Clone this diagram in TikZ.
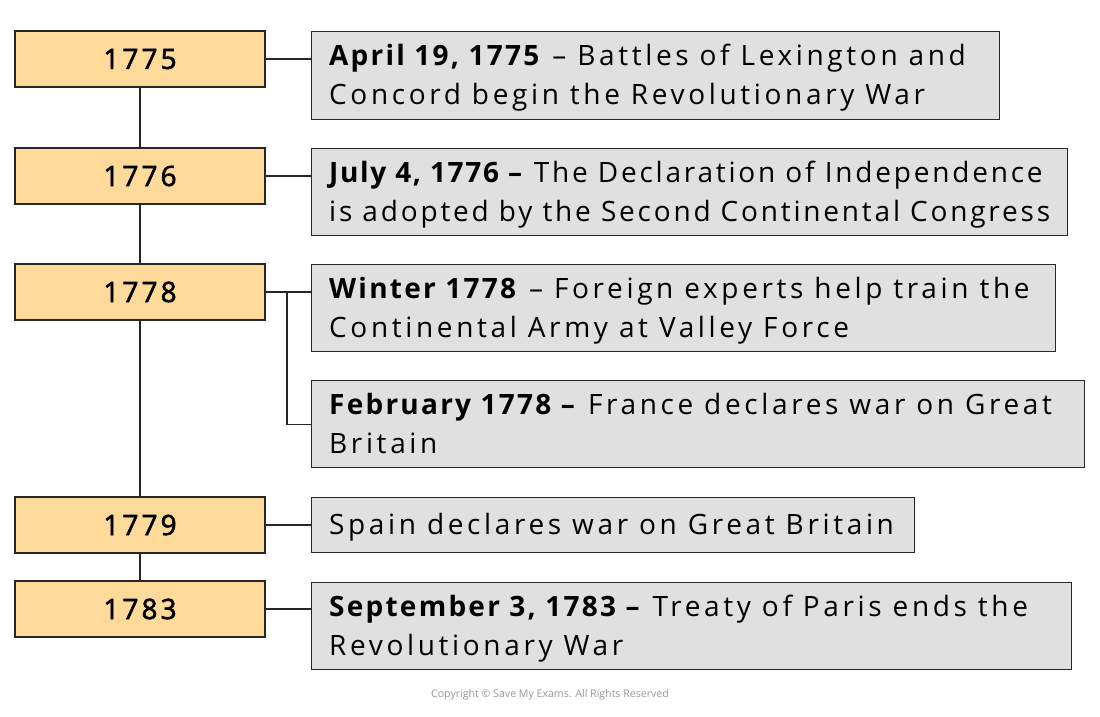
\documentclass[tikz,border=0pt]{standalone}
\usepackage{fontspec}
\setmainfont{Open Sans}[LetterSpace=13,BoldFeatures={LetterSpace=8}]
\newfontfamily\tightfont{Open Sans}[LetterSpace=10,BoldFeatures={LetterSpace=6}]
\newfontfamily\yearfont{Open Sans}[LetterSpace=11,FakeBold=2]
\newfontfamily\copyfont{Open Sans}
\usetikzlibrary{calc}
\begin{document}
\begin{tikzpicture}[x=1pt,y=-1pt,
  yearbox/.style={draw=black!85,line width=1.2pt,fill=yearfill,minimum width=250pt,minimum height=56pt,inner sep=0pt,font=\yearfont\fontsize{28}{32}\selectfont},
  eventbox/.style={draw=black!85,line width=1.2pt,fill=eventfill,anchor=north west,inner sep=0pt},
  evtext/.style={anchor=base west,inner sep=0pt,align=left,font=\fontsize{28}{39.5}\selectfont},
  link/.style={draw=black!85,line width=1.2pt}]
\definecolor{yearfill}{HTML}{FDDA9A}
\definecolor{eventfill}{HTML}{E0E0E0}
\useasboundingbox (0,0) rectangle (1100,716);
\fill[white] (0,0) rectangle (1100,716);
% year boxes
\node[yearbox] (y1) at (140,59) {1775};
\node[yearbox] (y2) at (140,176) {1776};
\node[yearbox] (y3) at (140,292) {1778};
\node[yearbox] (y4) at (140,525) {1779};
\node[yearbox] (y5) at (140,609) {1783};
% event boxes
\node[eventbox,minimum width=688pt,minimum height=88pt] (e1) at (311,31) {};
\node[eventbox,minimum width=756pt,minimum height=87pt] (e2) at (311,148) {};
\node[eventbox,minimum width=744pt,minimum height=87pt] (e3) at (311,264) {};
\node[eventbox,minimum width=773pt,minimum height=87pt] (e4) at (311,380) {};
\node[eventbox,minimum width=603pt,minimum height=55pt] (e5) at (311,497) {};
\node[eventbox,minimum width=760pt,minimum height=87pt] (e6) at (311,582) {};
% event texts (anchor = baseline of last line)
\node[evtext] (t1) at ($(e1.north west)+(18,73.5)$)
  {\textbf{April 19, 1775} – Battles of Lexington and\\Concord begin the Revolutionary War};
\node[evtext,font=\tightfont\fontsize{28}{39.5}\selectfont] (t2) at ($(e2.north west)+(18,73.5)$)
  {\textbf{July 4, 1776 –} The Declaration of Independence\\is adopted by the Second Continental Congress};
\node[evtext] (t3) at ($(e3.north west)+(18,73.5)$)
  {\textbf{Winter 1778} – Foreign experts help train the\\Continental Army at Valley Force};
\node[evtext] (t4) at ($(e4.north west)+(18,73.5)$)
  {\textbf{February 1778 –} France declares war on Great\\Britain};
\node[evtext] (t5) at ($(e5.north west)+(18,37)$)
  {Spain declares war on Great Britain};
\node[evtext] (t6) at ($(e6.north west)+(18,73.5)$)
  {\textbf{September 3, 1783 –} Treaty of Paris ends the\\Revolutionary War};
% vertical spine
\draw[link] (y1.south) -- (y2.north);
\draw[link] (y2.south) -- (y3.north);
\draw[link] (y3.south) -- (y4.north);
\draw[link] (y4.south) -- (y5.north);
% horizontal links
\draw[link] (y1.east) -- (y1.east -| e1.west);
\draw[link] (y2.east) -- (y2.east -| e2.west);
\draw[link] (y3.east) -- (y3.east -| e3.west);
\coordinate (br) at (287,292);
\draw[link] (br) |- (e4.west);
\draw[link] (y4.east) -- (y4.east -| e5.west);
\draw[link] (y5.east) -- (y5.east -| e6.west);
\node[text=black!40,font=\copyfont\fontsize{10.6}{12}\selectfont] (copy) at (550,695) {Copyright © Save My Exams. All Rights Reserved};
\end{tikzpicture}
\end{document}
